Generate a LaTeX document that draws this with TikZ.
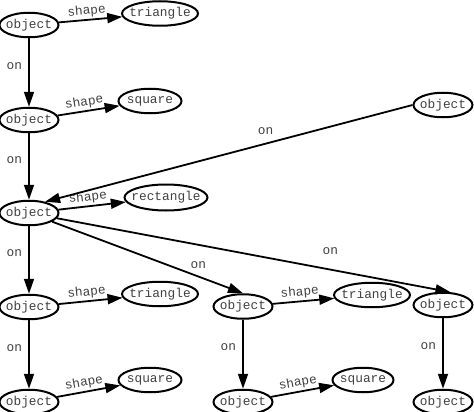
\documentclass[tikz,border=0pt]{standalone}
\usepackage{fontspec}
\setmonofont{Liberation Mono}
\usetikzlibrary{shapes.geometric,arrows.meta}
\newcommand{\ztxt}[1]{\makebox[0pt]{#1}}
\begin{document}
\begin{tikzpicture}[x=1pt,y=-1pt,
  nd/.style={ellipse, draw, line width=2pt, inner sep=0pt, minimum height=24.5pt,
    font=\ttfamily\fontsize{12.8}{14}\selectfont, text=black!75},
  obj/.style={nd, minimum width=59pt},
  tri/.style={nd, minimum width=76pt},
  sqr/.style={nd, minimum width=63pt},
  rct/.style={nd, minimum width=83pt, minimum height=26pt},
  edge/.style={line width=1.8pt, -{Triangle[length=15pt,width=10pt]}},
  lbl/.style={font=\ttfamily\fontsize{12.8}{14}\selectfont, text=black!75, inner sep=1pt},
  onv/.style={lbl, left=6pt, inner sep=0pt, pos=0.4},
  shp/.style={lbl, sloped, above=1pt, pos=0.45},
]
\useasboundingbox (0,0) rectangle (474,412);
\clip (0,0) rectangle (474,412);

\node[obj] (o1) at (29,25) {\ztxt{object}};
\node[tri] (t1) at (160,13.5) {\ztxt{triangle}};
\node[obj] (o2) at (29,120) {\ztxt{object}};
\node[sqr] (s1) at (150,101) {\ztxt{square}};
\node[obj] (or) at (443,105) {\ztxt{object}};
\node[obj] (o3) at (29,213) {\ztxt{object}};
\node[rct] (r1) at (166,197.5) {\ztxt{rectangle}};
\node[obj] (o4) at (29,307) {\ztxt{object}};
\node[tri] (t2) at (160,294) {\ztxt{triangle}};
\node[obj] (o5) at (29,402) {\ztxt{object}};
\node[sqr] (s2) at (150,380) {\ztxt{square}};
\node[obj] (o6) at (243,306.5) {\ztxt{object}};
\node[tri] (t3) at (372,295) {\ztxt{triangle}};
\node[obj] (o7) at (243,402) {\ztxt{object}};
\node[sqr, minimum width=61pt] (s3) at (363,380) {\ztxt{square}};
\node[obj] (o8) at (443,305) {\ztxt{object}};
\node[obj] (o9) at (443,402) {\ztxt{object}};

% shape edges
\draw[edge] (o1) -- node[shp] {shape} (t1);
\draw[edge] (o2) -- node[shp] {shape} (s1);
\draw[edge] (o3) -- node[shp] {shape} (r1);
\draw[edge] (o4) -- node[shp] {shape} (t2);
\draw[edge] (o5) -- node[shp] {shape} (s2);
\draw[edge] (o6) -- node[shp] {shape} (t3);
\draw[edge] (o7) -- node[shp] {shape} (s3);

% vertical on edges
\draw[edge] (o1) -- node[onv] {on} (o2);
\draw[edge] (o2) -- node[onv] {on} (o3);
\draw[edge] (o3) -- node[onv] {on} (o4);
\draw[edge] (o4) -- node[onv] {on} (o5);
\draw[edge] (o6) -- node[onv] {on} (o7);
\draw[edge] (o8) -- node[onv] {on} (o9);

% diagonal on edges
\draw[edge] (or.west) -- node[lbl, pos=0.4, yshift=12.5pt] {on} (o3.35);
\draw[edge] (o3) -- node[lbl, pos=0.766, yshift=11pt] {on} (o6.north);
\draw[edge] (o3) -- node[lbl, pos=0.695, yshift=18pt] {on} (o8.60);
\end{tikzpicture}
\end{document}
